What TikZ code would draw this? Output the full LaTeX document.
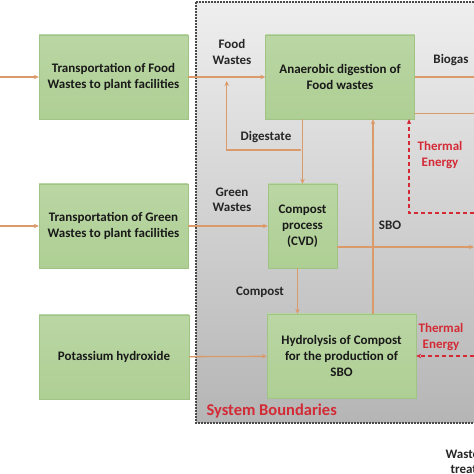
\documentclass[tikz,border=0pt]{standalone}
\usepackage{fontspec}
\setmainfont{Carlito}
\usetikzlibrary{arrows.meta, positioning, calc}
\definecolor{sbogreen}{HTML}{AECF94}
\definecolor{sboedge}{HTML}{9FC483}
\definecolor{sboorange}{HTML}{DA9A6A}
\definecolor{sbored}{HTML}{D42A35}
\definecolor{sbodark}{HTML}{4A4A4A}

\begin{document}
\begin{tikzpicture}[
  x=1pt, y=1pt,
  unit/.style={
    rectangle, draw=sboedge, top color=sbogreen!85!white, bottom color=sbogreen,
    minimum width=#1, minimum height=84pt, inner sep=2pt,
    font=\fontsize{13}{16}\selectfont\bfseries, text=black!90, align=center
  },
  unit/.default=149pt,
  flow/.style={line width=1.3pt, sboorange, -{Stealth[length=5pt,width=4.5pt]}},
  heat/.style={line width=1.3pt, sbored, dash pattern=on 4pt off 3pt,
    -{Stealth[length=5pt,width=4.5pt]}},
  lbl/.style={font=\fontsize{13}{15.5}\selectfont\bfseries, align=center, text=black!85},
  hlbl/.style={lbl, text=sbored}
]
  \useasboundingbox (0,0) rectangle (474,474);

  % System boundary
  \draw[sbodark, line width=1.4pt, dash pattern=on 2pt off 1pt,
    top color=gray!13, bottom color=gray!58] (196,472) rectangle (490,51);
  \node[font=\fontsize{16.5}{19}\selectfont\bfseries, text=sbored, anchor=west]
    (bound) at (203,63) {System Boundaries};

  \node[unit] (food) at (113.5,397) {Transportation of Food\\Wastes to plant facilities};
  \node[unit] (green) at (113.5,248) {Transportation of Green\\Wastes to plant facilities};
  \node[unit=150pt] (koh) at (114,117) {Potassium hydroxide};

  \node[unit] (digest) at (340,397) {Anaerobic digestion of\\Food wastes};
  \node[unit=69pt] (cvd) at (302.5,248) {Compost\\process\\(CVD)};
  \node[unit] (hydro) at (341.5,118) {Hydrolysis of Compost\\for the production of\\SBO};

  \coordinate (inA) at (0,397);
  \coordinate (inB) at (0,248);
  \coordinate (rim) at (474,0);
  \coordinate (sbo) at (373,0);
  \coordinate (dj) at (301,324);
  \coordinate (hx) at (409,261);

  \draw[flow] (inA) -- (food);
  \draw[flow] (inB) -- (green);
  \draw[flow] (food) -- (digest);
  \draw[flow] (green) -- (cvd);
  \draw[flow] (koh) -- (hydro);
  \draw[flow, -] (digest.east) -- (digest.east -| rim);
  \draw[flow, -] ([yshift=6pt]digest.south east) -- ([yshift=6pt]digest.south east -| rim);
  \draw[flow] (cvd.north |- digest.south) -- (cvd.north);
  \draw[flow, shorten >=4pt] (dj) -| ($(food.east)!0.5!(digest.west)$);
  \draw[flow] ([xshift=-5pt]cvd.south) -- ([xshift=-5pt]hydro.north -| cvd.south);
  \draw[flow] (hydro.north -| sbo) -- (digest.south -| sbo);
  \draw[flow] ([yshift=-21pt]cvd.east) -- ([yshift=-21pt]cvd.east -| rim);

  \draw[heat] (hx -| rim) -- (hx) -- (digest.south -| hx);
  \draw[heat] (hydro.east -| rim) -- (hydro.east);

  % Stream labels
  \node[lbl] (lfood) at (232,422) {Food\\Wastes};
  \node[lbl] (lgreen) at (232,274) {Green\\Wastes};
  \node[lbl] (lbiogas) at (451,414) {Biogas};
  \node[lbl] (ldig) at (266,337) {Digestate};
  \node[lbl] (lsbo) at (390,249) {SBO};
  \node[lbl] (lcomp) at (260,182) {Compost};
  \node[hlbl] (lheatA) at (440,319) {Thermal\\Energy};
  \node[hlbl] (lheatB) at (441,137) {Thermal\\Energy};
  \node[lbl] (lww) at (478,12) {Wastewater\\treatment};
\end{tikzpicture}
\end{document}
